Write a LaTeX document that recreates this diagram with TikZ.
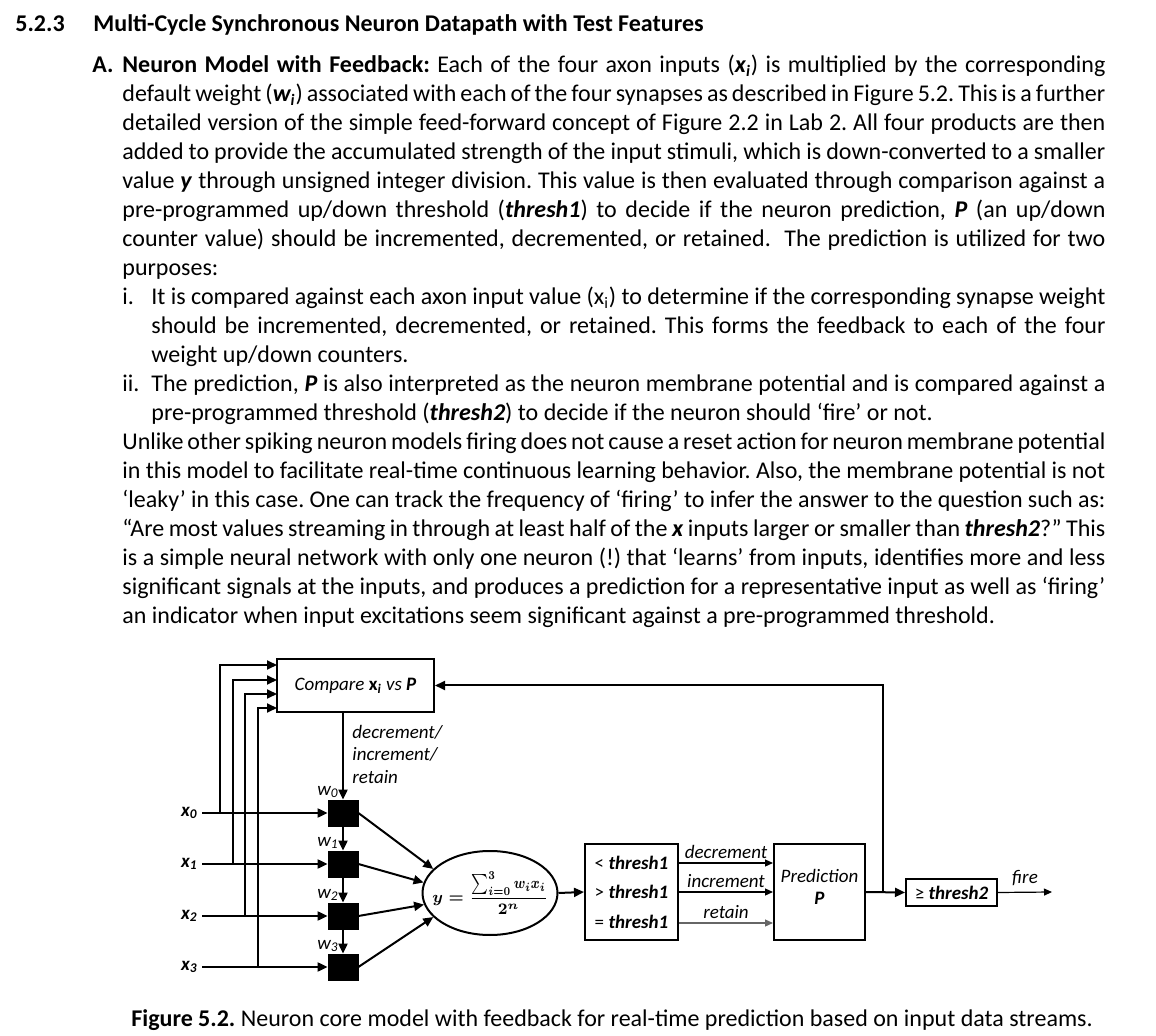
\documentclass[tikz,border=0pt]{standalone}
\usepackage{fontspec}
\usepackage{graphicx}
\setmainfont{Carlito}
\usetikzlibrary{arrows.meta,shapes.geometric,calc}
\hyphenpenalty=10000
\exhyphenpenalty=10000
\tolerance=9999
\hbadness=10000
\frenchspacing
\newcommand{\yformula}{{\mathversion{bold}$\displaystyle y=\frac{\resizebox{37pt}{\height}{$\textstyle\sum_{i=0}^{3} w_i x_i$}}{2^n}$}}
\begin{document}
\begin{tikzpicture}[x=0.5pt,y=-0.5pt,
  body/.style={anchor=base west, inner sep=0pt, align=justify, font=\fontsize{12}{14.5}\selectfont\frenchspacing},
  box/.style={draw, line width=1pt, inner sep=0pt},
  wsq/.style={fill=black, draw=black, minimum width=15pt, minimum height=13pt, inner sep=0pt},
  arr/.style={line width=1pt, -{Triangle[length=5pt,width=4.5pt]}},
  tarr/.style={line width=0.6pt, -{Triangle[length=4pt,width=3.5pt]}},
  lbl/.style={font=\fontsize{9.5}{11}\selectfont\itshape, inner sep=0pt},
  xl/.style={font=\fontsize{9.5}{11}\selectfont\bfseries\itshape, inner sep=0pt, anchor=east}
]
\useasboundingbox (0,0) rectangle (1156,1036);

% ---------- heading ----------
\node[anchor=base west, inner sep=0pt, font=\fontsize{12}{14}\selectfont\bfseries] (secnum) at (15,32) {5.2.3};
\node[anchor=base west, inner sep=0pt, font=\fontsize{12}{14}\selectfont\bfseries] (sectitle) at (93,32) {Multi-Cycle Synchronous Neuron Datapath with Test Features};

% ---------- paragraph A ----------
\node[body, text width=491.5pt] (parA) at (122,73) {\llap{\makebox[15pt][l]{\textbf{A.}}}\textbf{Neuron Model with Feedback:} Each of the four axon inputs (\textbf{\textit{x\textsubscript{i}}}) is multiplied by the corresponding\linebreak
default weight (\textbf{\textit{w\textsubscript{i}}}) associated with each of the four synapses as described in Figure 5.2. This is a further\linebreak
detailed version of the simple feed-forward concept of Figure 2.2 in Lab 2. All four products are then\linebreak
added to provide the accumulated strength of the input stimuli, which is down-converted to a smaller\linebreak
value \textbf{\textit{y}} through unsigned integer division. This value is then evaluated through comparison against a\linebreak
pre-programmed up/down threshold (\textbf{\textit{thresh1}}) to decide if the neuron prediction, \textbf{\textit{P}} (an up/down\linebreak
counter value) should be incremented, decremented, or retained.\ \ The prediction is utilized for two\linebreak
purposes:};

\node[body, text width=477pt] (itemi) at (151,305) {\llap{\makebox[14.5pt][l]{i.}}It is compared against each axon input value (x\textsubscript{i}) to determine if the corresponding synapse weight\linebreak
should be incremented, decremented, or retained. This forms the feedback to each of the four\linebreak
weight up/down counters.};

\node[body, text width=477pt] (itemii) at (151,392) {\llap{\makebox[14.5pt][l]{ii.}}The prediction, \textbf{\textit{P}} is also interpreted as the neuron membrane potential and is compared against a\linebreak
pre-programmed threshold (\textbf{\textit{thresh2}}) to decide if the neuron should `fire' or not.};

\node[body, text width=491.5pt] (parB) at (122,450) {Unlike other spiking neuron models firing does not cause a reset action for neuron membrane potential\linebreak
in this model to facilitate real-time continuous learning behavior. Also, the membrane potential is not\linebreak
`leaky' in this case. One can track the frequency of `firing' to infer the answer to the question such as:\linebreak
``Are most values streaming in through at least half of the \textbf{\textit{x}} inputs larger or smaller than \textbf{\textit{thresh2}}?'' This\linebreak
is a simple neural network with only one neuron (!) that `learns' from inputs, identifies more and less\linebreak
significant signals at the inputs, and produces a prediction for a representative input as well as `firing'\linebreak
an indicator when input excitations seem significant against a pre-programmed threshold.};

% ---------- diagram ----------
\node[box, minimum width=78.5pt, minimum height=26.5pt] (cmp) at (355.5,685.5)
  {\fontsize{9.5}{11}\selectfont\itshape Compare \textbf{\textup{x}\textsubscript{i}} vs \textbf{P}};

\foreach \i/\yy in {0/813,1/864,2/916,3/967}{
  \node[wsq] (w\i) at (343,\yy) {};
  \node[xl] (x\i) at (198,\yy) {x\textsubscript{\i}};
  \draw[arr] ([xshift=2pt]x\i.east) -- (w\i.west);
}
\node[lbl, anchor=east] (wl0) at (339,792) {w\textsubscript{0}};
\node[lbl, anchor=east] (wl1) at (339,843) {w\textsubscript{1}};
\node[lbl, anchor=east] (wl2) at (339,895) {w\textsubscript{2}};
\node[lbl, anchor=east] (wl3) at (339,946) {w\textsubscript{3}};

\coordinate (b0) at (220,813); \coordinate (c0) at (277,665);
\coordinate (b1) at (233,864); \coordinate (c1) at (277,680);
\coordinate (b2) at (245,916); \coordinate (c2) at (277,694);
\coordinate (b3) at (258,967); \coordinate (c3) at (277,708);
\draw[arr] (b0) |- (c0);
\draw[arr] (b1) |- (c1);
\draw[arr] (b2) |- (c2);
\draw[arr] (b3) |- (c3);

\draw[arr] (cmp.south -| w0.north) -- (w0.north);
\draw[arr] (w0.south) -- (w1.north);
\draw[arr] (w1.south) -- (w2.north);
\draw[arr] (w2.south) -- (w3.north);

\node[lbl, anchor=west, align=left, font=\fontsize{9.5}{11.25}\selectfont\itshape] (dir) at (352,754)
  {decrement/\\increment/\\retain};

\node[shape=ellipse, draw, line width=1pt, minimum width=67.5pt, minimum height=42pt, inner sep=0pt] (ell) at (490,893) {};
\node[inner sep=0pt, anchor=west, font=\fontsize{8.5}{10}\selectfont] (form) at (432,893) {\yformula};

\draw[arr] (w0.east) -- (ell.157);
\draw[arr] (w1.east) -- (ell.171);
\draw[arr] (w2.east) -- (ell.190);
\draw[arr] (w3.east) -- (ell.203);

\node[box, minimum width=46.5pt, minimum height=48pt, align=center, font=\fontsize{9.5}{14.75}\selectfont] (thr) at (631.5,892)
  {< \textbf{\textit{thresh1}}\\> \textbf{\textit{thresh1}}\\= \textbf{\textit{thresh1}}};
\draw[arr] (ell.east) -- (thr.west);

\node[box, minimum width=45.5pt, minimum height=48pt] (pred) at (819.5,892) {};
\node[lbl, align=center] (predtxt) at (819.5,887) {Prediction\\\textbf{P}};

\draw[tarr] ([yshift=14.5pt]thr.east) -- node[lbl, above=2pt] (ldec) {decrement} ([yshift=14.5pt]pred.west);
\draw[tarr] (thr.east) -- node[lbl, above=2pt] (linc) {increment} (pred.west);
\draw[tarr, draw=black!60] ([yshift=-15.5pt]thr.east) -- node[lbl, above=2pt] (lret) {retain} ([yshift=-15.5pt]pred.west);

\node[box, minimum width=45.5pt, minimum height=13.5pt, font=\fontsize{9.5}{11}\selectfont] (thr2) at (951.5,892.5)
  {≥ \textbf{\textit{thresh2}}};

\coordinate (jn) at (883,892);
\draw[arr] (pred.east) -- (thr2.west);
\draw[arr] (jn) |- (cmp.east);

\coordinate (fireout) at (1052,892);
\draw[tarr] (thr2.east) -- node[lbl, above=3pt] (lfire) {fire} (fireout);

% ---------- caption ----------
\node[anchor=base, inner sep=0pt, font=\fontsize{12}{14}\selectfont] (cap) at (612,1026)
  {\textbf{Figure 5.2.} Neuron core model with feedback for real-time prediction based on input data streams.};
\end{tikzpicture}
\end{document}
